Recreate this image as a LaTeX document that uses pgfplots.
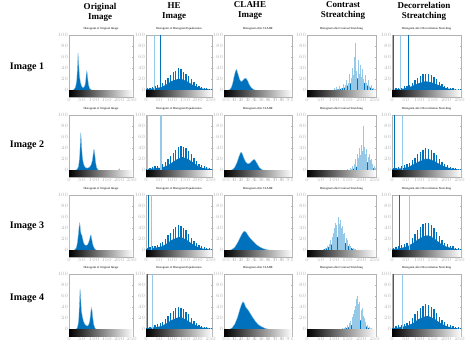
\documentclass[border=0pt]{standalone}
\usepackage{pgfplots}
\pgfplotsset{compat=1.18}
\usepackage{fontspec}
\setmainfont{Liberation Serif}
\definecolor{mblue}{RGB}{0,114,189}
\definecolor{lblue}{RGB}{150,200,232}
\pgfplotsset{
 hb/.style={scale only axis, anchor=north west, height=62pt, xmin=0, xmax=255, ymin=-12, ymax=100,
  axis line style={gray!60, line width=0.3pt}, tick style={gray!60, line width=0.2pt}, major tick length=1.2pt,
  xtick={0,50,...,250}, ytick={0,20,...,100},
  ticklabel style={font=\fontsize{2.2}{2.6}\selectfont, text=gray!60, inner sep=0.8pt},
  title style={font=\fontsize{3}{3.5}\selectfont, yshift=-5pt}},
 c1/.style={hb, width=64pt, title={Histogram of Original Image}},
 c2/.style={hb, width=66pt, title={Histogram of Histogram Equalization}},
 c3/.style={hb, width=68pt, xmax=1, xtick={0,0.1,...,1}, title={Histogram after CLAHE}},
 c4/.style={hb, width=69pt, title={Histogram after Contrast Stretching}},
 c5/.style={hb, width=69pt, title={Histogram after Decorrelation Stretching}},
 spk/.style={ycomb, mblue, line width=1.3pt},
}
\newcommand\grad{\fill[left color=black, right color=white] (rel axis cs:0,0) rectangle (rel axis cs:1,0.107);}
\begin{document}
\begin{tikzpicture}
\useasboundingbox (0,0) rectangle (474pt,351pt);
% headers
\begin{scope}[every node/.style={font=\bfseries\fontsize{9}{10}\selectfont, align=center}]
\node at (100pt,339pt) {Original\\Image};
\node at (174pt,339pt) {HE\\Image};
\node at (250pt,340pt) {CLAHE\\Image};
\node at (343pt,340pt) {Contrast\\Streatching};
\node at (424pt,340pt) {Decorrelation\\Streatching};
\end{scope}
\begin{scope}[every node/.style={font=\bfseries\fontsize{10}{11}\selectfont}]
\node at (27pt,284pt) {Image 1};
\node at (27pt,206pt) {Image 2};
\node at (27pt,125pt) {Image 3};
\node at (27pt,53pt) {Image 4};
\end{scope}

% ================= ROW 1 =================
\begin{axis}[c1, at={(69pt,316pt)}]
\addplot[fill=mblue, draw=lblue, line width=0.3pt] coordinates {(0,0)(10,0)(18,1)(24,4)(28,10)(31,20)(33,35)(35,55)(36,68)(37,60)(39,45)(41,32)(43,22)(46,14)(50,8)(55,5)(60,6)(64,10)(67,20)(69,30)(71,35)(73,30)(75,20)(78,10)(82,4)(88,1)(95,0)(255,0)} \closedcycle;
\grad
\end{axis}
\begin{axis}[c2, at={(146pt,316pt)}]
\addplot[fill=mblue, draw=none] coordinates {(0,2)(20,3)(40,4)(60,6)(80,11)(100,17)(120,20)(130,21)(140,20)(160,16)(180,10)(200,6)(220,3)(240,2)(255,1)} \closedcycle;
\addplot[spk] coordinates {(5,4)(15,5)(25,6)(35,7)(45,9)(55,11)(65,13)(75,18)(85,23)(95,28)(105,33)(115,35)(125,40)(135,38)(145,34)(155,30)(165,26)(175,20)(185,15)(195,11)(205,8)(215,6)(225,5)(235,4)(245,3)(255,2)};
\addplot[lblue, line width=1pt] coordinates {(31,0)(31,100)};
\addplot[mblue, line width=0.8pt] coordinates {(57,0)(57,100)};
\grad
\end{axis}
\begin{axis}[c3, at={(224pt,316pt)}]
\addplot[fill=mblue, draw=lblue, line width=0.3pt] coordinates {(0,0)(0.06,0)(0.09,2)(0.11,6)(0.13,14)(0.15,26)(0.17,35)(0.18,38)(0.19,36)(0.21,28)(0.23,20)(0.25,16)(0.27,17)(0.29,20)(0.31,22)(0.33,21)(0.35,17)(0.37,11)(0.40,5)(0.43,2)(0.47,0)(1,0)} \closedcycle;
\grad
\end{axis}
\begin{axis}[c4, at={(307pt,316pt)}]
\addplot[fill=mblue, draw=none] coordinates {(90,0)(120,2)(140,5)(160,12)(175,18)(185,22)(200,18)(215,12)(230,6)(245,2)(255,0)} \closedcycle;
\addplot[ycomb, lblue, line width=0.7pt] coordinates {(100,4)(110,6)(118,8)(126,5)(133,12)(140,10)(147,18)(152,14)(158,30)(163,22)(168,40)(172,28)(176,60)(180,85)(184,35)(188,55)(192,30)(197,45)(201,25)(206,38)(210,20)(215,28)(220,14)(226,18)(232,8)(238,10)(245,5)(252,3)};
\grad
\end{axis}
\begin{axis}[c5, at={(392pt,316pt)}]
\addplot[fill=mblue, draw=none] coordinates {(0,1)(20,2)(40,3)(60,5)(80,9)(100,13)(120,16)(130,16)(140,15)(160,12)(180,8)(200,4)(220,2)(240,1)(255,1)} \closedcycle;
\addplot[spk] coordinates {(5,3)(15,4)(25,5)(35,5)(45,7)(55,8)(65,10)(75,14)(85,18)(95,22)(105,26)(115,29)(125,30)(135,29)(145,27)(155,24)(165,20)(175,15)(185,11)(195,8)(205,6)(215,5)(225,4)(235,3)(245,2)(255,2)};
\addplot[mblue, line width=0.8pt] coordinates {(6,0)(6,100)};
\addplot[lblue, line width=1pt] coordinates {(33,0)(33,100)};
\addplot[mblue, line width=0.8pt] coordinates {(61,0)(61,100)};
\grad
\end{axis}

% ================= ROW 2 =================
\begin{axis}[c1, at={(69pt,236pt)}]
\addplot[fill=mblue, draw=lblue, line width=0.3pt] coordinates {(0,0)(25,0)(32,2)(37,6)(40,14)(43,30)(45,50)(47,68)(49,55)(51,38)(53,26)(56,16)(60,9)(66,5)(74,4)(82,6)(88,10)(93,18)(96,28)(99,38)(101,36)(104,24)(107,12)(111,4)(116,1)(122,0)(198,0)(200,3)(202,0)(255,0)} \closedcycle;
\grad
\end{axis}
\begin{axis}[c2, at={(146pt,236pt)}]
\addplot[fill=mblue, draw=none] coordinates {(0,2)(20,3)(40,4)(60,5)(80,8)(100,14)(120,20)(140,24)(160,21)(180,15)(200,8)(220,4)(240,3)(255,2)} \closedcycle;
\addplot[spk] coordinates {(5,4)(15,4)(25,6)(35,7)(45,8)(55,10)(65,12)(75,15)(85,20)(95,26)(105,32)(115,37)(125,42)(135,44)(145,43)(155,40)(165,35)(175,29)(185,22)(195,17)(205,12)(215,9)(225,7)(235,6)(245,4)(255,3)};
\addplot[lblue, line width=1pt] coordinates {(6,0)(6,100)};
\addplot[lblue, line width=2pt] coordinates {(57,0)(57,100)};
\grad
\end{axis}
\begin{axis}[c3, at={(224pt,236pt)}]
\addplot[fill=mblue, draw=lblue, line width=0.3pt] coordinates {(0,0)(0.10,0)(0.13,2)(0.16,6)(0.19,14)(0.22,25)(0.24,31)(0.25,33)(0.27,30)(0.29,23)(0.32,15)(0.35,12)(0.38,13)(0.41,17)(0.44,20)(0.46,18)(0.49,12)(0.52,5)(0.55,2)(0.58,0)(1,0)} \closedcycle;
\grad
\end{axis}
\begin{axis}[c4, at={(307pt,236pt)}]
\addplot[fill=mblue, draw=none] coordinates {(160,0)(180,5)(195,12)(205,20)(215,18)(225,14)(235,8)(245,4)(255,0)} \closedcycle;
\addplot[ycomb, lblue, line width=0.7pt] coordinates {(150,3)(160,5)(168,8)(174,12)(180,20)(185,30)(189,22)(193,40)(197,28)(201,45)(205,35)(209,80)(213,42)(217,30)(221,38)(225,25)(229,30)(233,18)(238,20)(243,12)(248,8)(253,4)};
\grad
\end{axis}
\begin{axis}[c5, at={(392pt,236pt)}]
\addplot[fill=mblue, draw=none] coordinates {(0,2)(20,3)(40,4)(60,6)(80,11)(100,16)(120,20)(130,21)(140,20)(160,16)(180,10)(200,6)(220,3)(240,2)(255,1)} \closedcycle;
\addplot[spk] coordinates {(5,4)(15,5)(25,6)(35,8)(45,9)(55,11)(65,14)(75,18)(85,23)(95,29)(105,34)(115,37)(125,40)(135,39)(145,36)(155,31)(165,27)(175,21)(185,15)(195,11)(205,9)(215,6)(225,5)(235,4)(245,3)(255,2)};
\addplot[mblue, line width=0.8pt] coordinates {(8,0)(8,100)};
\addplot[lblue, line width=1pt] coordinates {(40,0)(40,100)};
\grad
\end{axis}

% ================= ROW 3 =================
\begin{axis}[c1, at={(69pt,156pt)}]
\addplot[fill=mblue, draw=lblue, line width=0.3pt] coordinates {(0,0)(20,0)(27,3)(31,8)(34,16)(37,28)(40,42)(42,50)(44,46)(46,36)(48,30)(51,28)(54,22)(58,14)(63,10)(68,9)(73,10)(78,14)(82,20)(85,26)(87,28)(89,25)(92,17)(96,9)(101,4)(107,1)(114,0)(255,0)} \closedcycle;
\addplot[lblue, line width=1pt] coordinates {(2,0)(2,100)};
\grad
\end{axis}
\begin{axis}[c2, at={(146pt,156pt)}]
\addplot[fill=mblue, draw=none] coordinates {(0,2)(20,3)(40,5)(60,7)(80,12)(100,19)(120,23)(130,24)(140,23)(160,18)(180,11)(200,6)(220,3)(240,2)(255,1)} \closedcycle;
\addplot[spk] coordinates {(5,5)(15,6)(25,7)(35,8)(45,10)(55,13)(65,15)(75,21)(85,27)(95,32)(105,38)(115,43)(125,45)(135,44)(145,41)(155,36)(165,30)(175,23)(185,17)(195,13)(205,9)(215,7)(225,6)(235,5)(245,4)(255,2)};
\addplot[mblue, line width=0.8pt] coordinates {(8,0)(8,100)};
\addplot[lblue, line width=1pt] coordinates {(20,0)(20,100)};
\grad
\end{axis}
\begin{axis}[c3, at={(224pt,156pt)}]
\addplot[fill=mblue, draw=lblue, line width=0.3pt] coordinates {(0,0)(0.08,0)(0.12,2)(0.16,6)(0.20,14)(0.24,24)(0.27,31)(0.30,35)(0.33,32)(0.36,26)(0.40,20)(0.44,15)(0.48,10)(0.53,6)(0.58,3)(0.64,1)(0.70,0)(1,0)} \closedcycle;
\grad
\end{axis}
\begin{axis}[c4, at={(307pt,156pt)}]
\addplot[fill=mblue, draw=none] coordinates {(55,0)(75,4)(90,10)(105,20)(115,25)(125,22)(140,14)(155,7)(170,2)(185,0)} \closedcycle;
\addplot[ycomb, lblue, line width=0.7pt] coordinates {(60,3)(68,5)(75,8)(82,12)(88,18)(93,25)(98,32)(102,40)(106,50)(110,45)(114,60)(118,48)(122,55)(126,40)(130,44)(134,30)(139,32)(144,22)(149,18)(155,12)(162,8)(170,5)(180,3)};
\grad
\end{axis}
\begin{axis}[c5, at={(392pt,156pt)}]
\addplot[fill=mblue, draw=none] coordinates {(0,2)(20,3)(40,5)(60,8)(80,14)(100,21)(120,26)(130,27)(140,26)(160,20)(180,12)(200,7)(220,4)(240,2)(255,1)} \closedcycle;
\addplot[spk] coordinates {(5,5)(15,6)(25,8)(35,9)(45,12)(55,14)(65,17)(75,23)(85,30)(95,36)(105,43)(115,48)(125,50)(135,49)(145,45)(155,40)(165,34)(175,26)(185,19)(195,14)(205,11)(215,8)(225,7)(235,5)(245,4)(255,3)};
\addplot[mblue, line width=0.8pt] coordinates {(29,0)(29,100)};
\addplot[lblue, line width=1pt] coordinates {(66,0)(66,100)};
\grad
\end{axis}

% ================= ROW 4 =================
\begin{axis}[c1, at={(69pt,77pt)}]
\addplot[fill=mblue, draw=lblue, line width=0.3pt] coordinates {(0,0)(26,0)(32,2)(36,8)(39,20)(41,40)(43,62)(44,73)(46,62)(48,44)(50,32)(53,24)(57,16)(62,10)(68,7)(74,6)(79,9)(83,16)(86,28)(88,36)(90,40)(92,34)(95,20)(99,8)(104,2)(110,0)(255,0)} \closedcycle;
\grad
\end{axis}
\begin{axis}[c2, at={(146pt,77pt)}]
\addplot[fill=mblue, draw=none] coordinates {(0,2)(20,3)(40,4)(60,6)(80,11)(100,17)(120,21)(130,22)(140,21)(160,16)(180,10)(200,6)(220,3)(240,2)(255,1)} \closedcycle;
\addplot[spk] coordinates {(5,4)(15,5)(25,6)(35,7)(45,9)(55,11)(65,13)(75,18)(85,24)(95,29)(105,34)(115,38)(125,40)(135,39)(145,36)(155,32)(165,27)(175,20)(185,15)(195,11)(205,8)(215,6)(225,5)(235,4)(245,3)(255,2)};
\addplot[mblue, line width=0.8pt] coordinates {(5,0)(5,100)};
\addplot[lblue, line width=1pt] coordinates {(25,0)(25,100)};
\grad
\end{axis}
\begin{axis}[c3, at={(224pt,77pt)}]
\addplot[fill=mblue, draw=lblue, line width=0.3pt] coordinates {(0,0)(0.08,0)(0.12,3)(0.16,10)(0.20,22)(0.23,35)(0.26,46)(0.28,50)(0.30,47)(0.32,40)(0.35,36)(0.38,30)(0.42,22)(0.46,15)(0.50,9)(0.55,5)(0.60,2)(0.66,0)(1,0)} \closedcycle;
\grad
\end{axis}
\begin{axis}[c4, at={(307pt,77pt)}]
\addplot[fill=mblue, draw=none] coordinates {(130,0)(155,4)(170,10)(182,18)(190,20)(200,15)(212,8)(225,3)(240,0)} \closedcycle;
\addplot[ycomb, lblue, line width=0.7pt] coordinates {(130,3)(140,5)(148,8)(155,12)(161,16)(166,22)(171,28)(175,35)(179,42)(183,55)(187,60)(191,45)(195,50)(199,35)(203,38)(207,25)(212,20)(217,14)(223,8)(230,5)(238,3)};
\grad
\end{axis}
\begin{axis}[c5, at={(392pt,77pt)}]
\addplot[fill=mblue, draw=none] coordinates {(0,2)(20,3)(40,5)(60,7)(80,12)(100,19)(120,23)(130,24)(140,23)(160,18)(180,11)(200,6)(220,3)(240,2)(255,1)} \closedcycle;
\addplot[spk] coordinates {(5,5)(15,6)(25,7)(35,8)(45,10)(55,12)(65,15)(75,21)(85,27)(95,33)(105,38)(115,42)(125,45)(135,44)(145,40)(155,36)(165,30)(175,23)(185,17)(195,13)(205,9)(215,7)(225,6)(235,4)(245,4)(255,2)};
\addplot[mblue, line width=0.8pt] coordinates {(4,0)(4,100)};
\addplot[lblue, line width=1pt] coordinates {(40,0)(40,100)};
\grad
\end{axis}
\end{tikzpicture}
\end{document}
